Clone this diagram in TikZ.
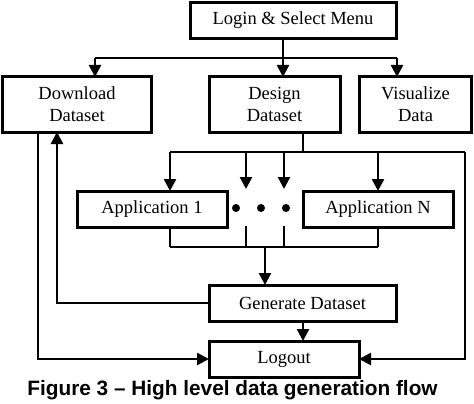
\documentclass[tikz,border=0pt]{standalone}
\usepackage{fontspec}
\setmainfont{Liberation Serif}
\newfontfamily\capfont{Liberation Sans}
\usetikzlibrary{arrows.meta,calc}
\begin{document}
\begin{tikzpicture}[x=1pt,y=-1pt,
  box/.style={draw,line width=3pt,inner sep=0pt,outer sep=0pt,align=center,
    font=\fontsize{18.5}{22}\selectfont},
  ln/.style={line width=2.5pt},
  arr/.style={ln,-{Triangle[length=12pt,width=12pt]}},
  dotn/.style={circle,fill,inner sep=0pt,minimum size=8pt}]
\useasboundingbox (0,0) rectangle (474,404);
% boxes
\node[box,minimum width=206pt,minimum height=36pt] (login) at (293,20.5) {Login \& Select Menu};
\node[box,minimum width=149pt,minimum height=55pt] (dl) at (77,104.5) {Download\\Dataset};
\node[box,minimum width=131pt,minimum height=55pt] (des) at (274.5,104.5) {Design\\Dataset};
\node[box,minimum width=112pt,minimum height=55pt] (vis) at (415.5,104.5) {Visualize\\Data};
\node[box,minimum width=150pt,minimum height=36pt] (app1) at (152,209) {Application 1};
\node[box,minimum width=150pt,minimum height=36pt] (appN) at (378,209) {Application N};
\node[box,minimum width=187pt,minimum height=36pt] (gen) at (302.5,303) {Generate Dataset};
\node[box,minimum width=150pt,minimum height=36pt] (logout) at (284,359) {Logout};
\node[dotn] (d1) at (236,208) {};
\node[dotn] (d2) at (261,208) {};
\node[dotn] (d3) at (286,208) {};
\node[font=\capfont\bfseries\fontsize{20.8}{24}\selectfont,inner sep=0pt] (cap) at (232.5,390) {Figure 3 \textendash\ High level data generation flow};
% coordinates
\coordinate (t1) at (95,58);
\coordinate (t2) at (283,58);
\coordinate (t3) at (397,58);
\coordinate (m0) at (303,152);
\coordinate (m1) at (170,152);
\coordinate (m2) at (246,152);
\coordinate (m3) at (284,152);
\coordinate (m4) at (378,152);
\coordinate (mr) at (465,152);
\coordinate (b1) at (170,247);
\coordinate (b2) at (246,247);
\coordinate (b3) at (284,247);
\coordinate (b4) at (378,247);
\coordinate (bc) at (265,247);
\coordinate (gl) at (57,303);
\coordinate (dlx) at (38,359);
\coordinate (rr) at (465,359);
% top distribution
\draw[ln] (login.south -| t2) -- (t2);
\draw[ln] (t1) -- (t3);
\draw[arr] (t1) -- (t1 |- dl.north);
\draw[arr] (t2) -- (t2 |- des.north);
\draw[arr] (t3) -- (t3 |- vis.north);
% design to applications
\draw[ln] (des.south -| m0) -- (m0);
\draw[ln] (m1) -- (mr);
\draw[arr] (m1) -- (m1 |- app1.north);
\draw[arr] (m2) -- ($(m2 |- app1.north)+(0,-2)$);
\draw[arr] (m3) -- ($(m3 |- app1.north)+(0,-2)$);
\draw[arr] (m4) -- (m4 |- appN.north);
% applications to generate
\draw[ln] (app1.south -| b1) -- (b1);
\draw[ln] ($(b2 |- app1.south)+(0,-1)$) -- (b2);
\draw[ln] ($(b3 |- app1.south)+(0,-1)$) -- (b3);
\draw[ln] (appN.south -| b4) -- (b4);
\draw[ln] (b1) -- (b4);
\draw[arr] (bc) -- (bc |- gen.north);
% generate back to download
\draw[arr] (gen.west |- gl) -- (gl) -- (gl |- dl.south);
% download to logout
\draw[arr] (dl.south -| dlx) -- (dlx) -- (logout.west |- dlx);
% right side to logout
\draw[arr] (mr) -- (rr) -- (logout.east |- rr);
% generate to logout
\draw[arr] (gen.south -| m0) -- (logout.north -| m0);
\end{tikzpicture}
\end{document}
